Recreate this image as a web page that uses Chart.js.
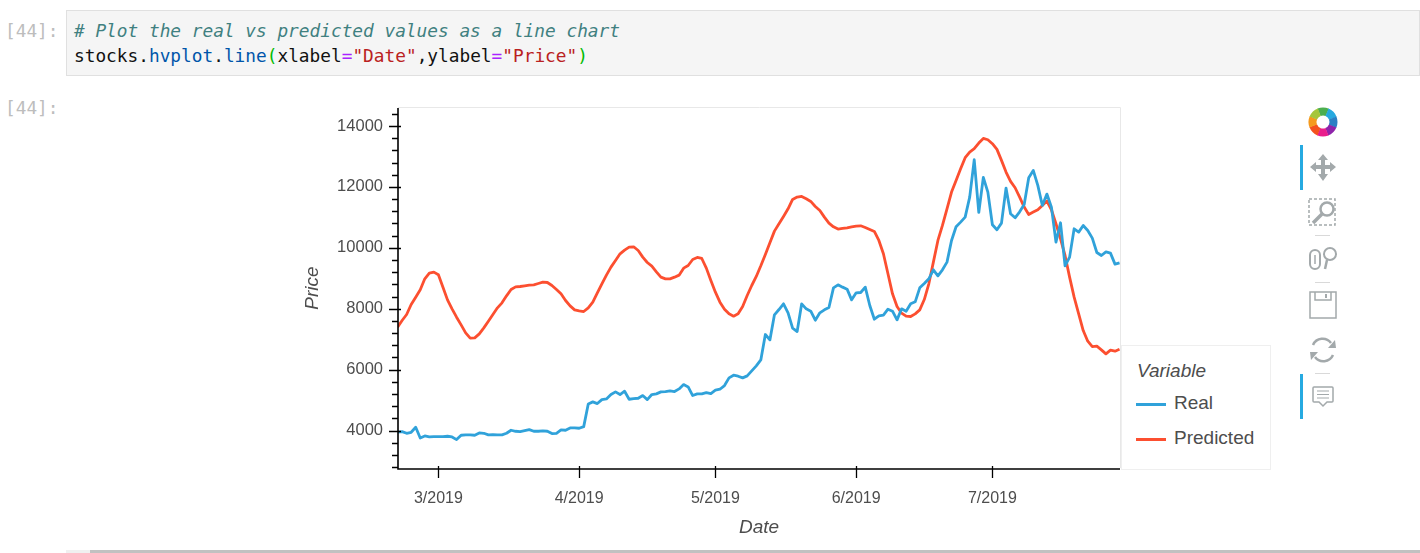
<!DOCTYPE html>
<html><head><meta charset="utf-8">
<script src="https://cdn.jsdelivr.net/npm/chart.js@4"></script>
<style>
html,body{margin:0;padding:0;background:#fff;width:1420px;height:553px;overflow:hidden}
.abs{position:absolute}
.mono{font-family:"DejaVu Sans Mono",monospace;font-size:17.8px;line-height:25px;white-space:pre}
#cell{left:66px;top:10px;width:1354px;height:66px;background:#f5f5f5;border:1px solid #e0e0e0;box-sizing:border-box}
#code{left:74px;top:18px;color:#111}
.c{color:#408080;font-style:italic}.n{color:#0055aa}.p{color:#0b0}.e{color:#aa22ff}.s{color:#ba2121}
.prompt{left:5px;color:#bdbdbd}
#chartWrap{left:300px;top:95px;width:980px;height:450px}
#legend{left:1121px;top:345px;width:150px;height:125px;box-sizing:border-box;background:#fff;border:1px solid #efefef;font-family:"Liberation Sans",Arial,sans-serif;font-size:19px;color:#4d4d4d}
#legend div{position:absolute;white-space:nowrap;line-height:22px}
#legend i.sw{position:absolute;left:14px;width:30px;height:3px}
#bar1{left:66px;top:550px;width:24px;height:3px;background:#f0f0f0}
#bar2{left:90px;top:550px;width:1330px;height:3px;background:#c1c1c1}
</style></head><body>
<div id="cell" class="abs"></div>
<div id="code" class="abs mono"><span class="c"># Plot the real vs predicted values as a line chart</span>
stocks.<span class="n">hvplot</span>.<span class="n">line</span><span class="p">(</span>xlabel<span class="e">=</span><span class="s">"Date"</span>,ylabel<span class="e">=</span><span class="s">"Price"</span><span class="p">)</span></div>
<div class="abs mono prompt" style="top:18px">[44]:</div>
<div class="abs mono prompt" style="top:95px">[44]:</div>
<div id="chartWrap" class="abs"><canvas id="c" width="980" height="450" style="width:980px;height:450px;display:block"></canvas></div>
<div id="legend" class="abs"></div>
<svg class="abs" style="left:1295px;top:100px" width="60" height="330" viewBox="1295 100 60 330" fill="none">
<g id="logo"></g>
<rect x="1300" y="145" width="3" height="45" fill="#26aae1"/>
<rect x="1300" y="374" width="3" height="45" fill="#26aae1"/>
<g fill="#a3a9ab">
<path d="M1323 154l5 6h-3v5h5v-3l6 5-6 5v-3h-5v5h3l-5 7-5-7h3v-5h-5v3l-6-5 6-5v3h5v-5h-3z"/>
</g>
<g stroke="#a3a9ab" stroke-width="1.5">
<rect x="1309" y="199" width="26" height="26" stroke-dasharray="3 2"/>
<circle cx="1327" cy="209" r="6.5" stroke-width="2.5" fill="#fff"/>
<path d="M1322 214l-9 9" stroke-width="3.5"/>
<rect x="1310" y="250" width="10" height="19" rx="5" stroke-width="2"/>
<path d="M1315 255v9" stroke-width="1.5"/>
<circle cx="1330" cy="254" r="6" stroke-width="2"/>
<path d="M1327 260l-2 9" stroke-width="2.5"/>
<rect x="1310" y="292" width="26" height="26" stroke-width="1.5"/>
<path d="M1315 292v8h16v-8"/>
<path d="M1326 294v4" stroke-width="2"/>
<path d="M1313 345a10.500 10.500 0 0 1 18 -2M1333 355a10.500 10.500 0 0 1 -18 2" stroke-width="2.500"/>
<path d="M1328 348h8l-1 -8zM1318 352h-8l1 8z" fill="#a3a9ab" stroke="none"/>
<path d="M1314 387h18a1 1 0 0 1 1 1v13a1 1 0 0 1 -1 1h-5l-4 4-4-4h-5a1 1 0 0 1 -1 -1v-13a1 1 0 0 1 1 -1z" stroke-width="1.500"/>
<path d="M1317 391h12M1317 394.500h12M1317 398h12" stroke-width="1.200"/>
</g>
<g stroke="#d9d9d9" stroke-width="1"><path d="M1315 235.500h15M1315 282.500h15M1315 373.500h15"/></g>
</svg>
<div id="bar1" class="abs"></div><div id="bar2" class="abs"></div>
<script>
const monthLabels = ["3/2019","4/2019","5/2019","6/2019","7/2019"];
const monthDays = [0,31,61,92,122];
const yLabelStep = 2000;
const yMinorStep = 400;
const realValues = [3945,3967,3912,3945,4110,3759,3825,3792,3803,3803,3803,3814,3792,3704,3847,3858,3858,3847,3923,3912,
3858,3869,3858,3858,3912,4011,3978,3967,4000,4033,3978,3978,3989,3978,3901,3912,4022,4011,4088,4088,
4077,4131,4876,4942,4887,5018,5040,5183,5270,5183,5292,5029,5051,5062,5150,5018,5183,5205,5270,5281,
5303,5281,5369,5511,5434,5150,5205,5205,5248,5215,5325,5358,5478,5730,5818,5785,5730,5796,5960,6125,
6321,7154,6978,7800,7975,8161,7865,7362,7252,8161,7997,7920,7624,7865,7964,8041,8687,8785,8709,8643,
8292,8522,8533,8709,8106,7657,7767,7789,7986,7920,7635,7997,7920,8161,8227,8687,8829,8982,9278,9081,
9278,9530,10242,10690,10844,11008,11665,12891,11161,12311,11829,10756,10592,10811,11961,11118,10986,11183,11424,12300,
12541,12048,11391,11764,11337,10187,10822,9409,9694,10625,10515,10734,10570,10318,9847,9749,9869,9825,9464,9508];
const predictedValues = [7395,7614,7811,8139,8380,8621,8982,9168,9201,9114,8709,8292,7997,7723,7471,7208,7033,7044,7176,7373,
7592,7811,8030,8194,8424,8632,8719,8730,8752,8774,8785,8829,8873,8862,8763,8632,8490,8271,8095,7964,
7931,7909,8030,8216,8522,8818,9103,9366,9585,9804,9924,10023,10034,9913,9694,9519,9398,9212,9037,8982,
8982,9037,9103,9333,9420,9617,9683,9650,9333,8928,8544,8216,7986,7833,7756,7833,8073,8435,8763,9059,
9409,9782,10165,10548,10789,11030,11282,11588,11665,11687,11610,11523,11358,11227,11008,10811,10690,10614,10636,10658,
10690,10712,10723,10669,10603,10537,10242,9804,9147,8490,8073,7854,7756,7745,7833,7964,8303,8818,9530,10242,
10734,11282,11829,12213,12596,12957,13143,13253,13439,13592,13548,13417,13231,12870,12486,12180,11972,11665,11337,11096,
11172,11249,11391,11534,11249,10789,10296,9749,9037,8380,7833,7285,6935,6759,6770,6650,6519,6639,6606,6672];
const firstDay = -9;
const seriesNames = ["Real","Predicted"];
const seriesColors = ["#30a2da","#fc4f30"];
const legendTitle = "Variable";
const xTitle = "Date", yTitle = "Price";

const toPoints = vals => vals.map((v,i)=>({x:firstDay+i,y:v}));
const textColor = "#4d4d4d";
const fontFamily = '"Liberation Sans", Arial, sans-serif';

const axisMarks = {
  id:"axisMarks",
  beforeDatasetsDraw(chart){
    const {ctx,chartArea:a} = chart;
    ctx.save();
    ctx.strokeStyle="#e8e8e8"; ctx.lineWidth=1;
    ctx.beginPath();
    ctx.moveTo(a.left,a.top-0.5); ctx.lineTo(a.right+0.5,a.top-0.5); ctx.lineTo(a.right+0.5,a.bottom);
    ctx.stroke();
    ctx.restore();
  },
  afterDatasetsDraw(chart){
    const {ctx,chartArea:a,scales:{x,y}} = chart;
    ctx.save();
    ctx.strokeStyle="#000";
    ctx.lineWidth=1.6;
    ctx.beginPath();
    ctx.moveTo(a.left,a.top); ctx.lineTo(a.left,a.bottom+1); ctx.lineTo(a.right,a.bottom+1);
    ctx.stroke();
    ctx.lineWidth=1.3;
    ctx.beginPath();
    y.ticks.forEach(t=>{
      const p=Math.round(y.getPixelForValue(t.value))+0.5;
      const major=t.value%yLabelStep===0;
      ctx.moveTo(a.left-(major?9:6),p); ctx.lineTo(a.left+(major?3:0),p);
    });
    monthDays.forEach(d=>{
      const p=Math.floor(x.getPixelForValue(d))+0.5;
      ctx.moveTo(p,a.bottom-2); ctx.lineTo(p,a.bottom+10);
    });
    ctx.stroke();
    ctx.restore();
  }
};

const chart = new Chart(document.getElementById("c"),{
  type:"line",
  data:{datasets:[
    {label:seriesNames[0],data:toPoints(realValues),borderColor:seriesColors[0],backgroundColor:seriesColors[0],borderWidth:2.8,pointRadius:0,tension:0,borderJoinStyle:"round"},
    {label:seriesNames[1],data:toPoints(predictedValues),borderColor:seriesColors[1],backgroundColor:seriesColors[1],borderWidth:2.8,pointRadius:0,tension:0,borderJoinStyle:"round"}
  ]},
  options:{
    responsive:false,animation:false,devicePixelRatio:1,
    layout:{padding:{left:0,top:13,right:160,bottom:0}},
    plugins:{legend:{display:false},tooltip:{enabled:false}},
    scales:{
      x:{type:"linear",min:-8.9,max:150.1,
        afterBuildTicks(s){s.ticks=monthDays.map(v=>({value:v}));},
        afterFit(s){s.height=77;s.paddingLeft=0;s.paddingRight=0;},
        grid:{display:false,drawTicks:false},border:{display:false},
        ticks:{autoSkip:false,maxRotation:0,padding:21,color:textColor,font:{family:fontFamily,size:16},
          callback(v){const i=monthDays.indexOf(v);return i>=0?monthLabels[i]:"";}},
        title:{display:true,text:xTitle,color:textColor,padding:{top:0,bottom:6},font:{family:fontFamily,size:19,style:"italic"}}
      },
      y:{type:"linear",min:2772,max:14590,
        afterFit(s){s.width=98;s.paddingTop=0;s.paddingBottom=0;},
        grid:{display:false,drawTicks:false},border:{display:false},
        ticks:{stepSize:yMinorStep,includeBounds:false,autoSkip:false,padding:15,color:textColor,font:{family:fontFamily,size:16.5},
          callback(v){return v%yLabelStep===0?String(v):"";}},
        title:{display:true,text:yTitle,color:textColor,padding:{top:1,bottom:0},font:{family:fontFamily,size:19,style:"italic"}}
      }
    }
  },
  plugins:[axisMarks]
});

// Legend, built from the chart's datasets
const lg=document.getElementById("legend");
const title=document.createElement("div");
title.textContent=legendTitle;title.style.cssText="left:15px;top:14px;font-style:italic";lg.appendChild(title);
chart.data.datasets.forEach((d,i)=>{
  const top=46+i*35;
  const t=document.createElement("div");t.textContent=d.label;t.style.cssText="left:52px;top:"+top+"px";lg.appendChild(t);
  const s=document.createElement("i");s.className="sw";s.style.cssText="top:"+(top+11)+"px;background:"+d.borderColor;lg.appendChild(s);
});

// Toolbar logo
const logoColors=["#4caf50","#26a9e0","#2b7fc4","#8e24aa","#e91e8c","#f4511e","#f59a1e","#a5c63b"];
const NS="http://www.w3.org/2000/svg",logo=document.getElementById("logo");
const R=10.5,C=2*Math.PI*R;
logoColors.forEach((col,i)=>{
  const c=document.createElementNS(NS,"circle");
  c.setAttribute("cx",1323);c.setAttribute("cy",122);c.setAttribute("r",R);
  c.setAttribute("stroke",col);c.setAttribute("stroke-width",8);
  c.setAttribute("stroke-dasharray",(C/8+0.3)+" "+(C-C/8-0.3));
  c.setAttribute("transform","rotate("+(-112.5+i*45)+" 1323 122)");
  logo.appendChild(c);
});
</script>
</body></html>
